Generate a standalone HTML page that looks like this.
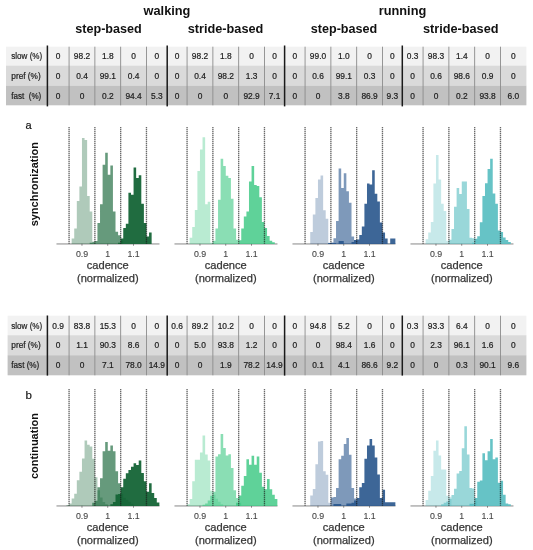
<!DOCTYPE html>
<html lang="en"><head><meta charset="utf-8"><title>Cadence histograms</title>
<style>html,body{margin:0;padding:0;background:#fff}svg{display:block}</style></head>
<body>
<svg width="533" height="550" viewBox="0 0 533 550" font-family='"Liberation Sans", sans-serif'>
<rect width="533" height="550" fill="#fff"/>
<text x="167" y="15.3" font-size="13.2" font-weight="700" text-anchor="middle" fill="#111" textLength="46.8" lengthAdjust="spacingAndGlyphs">walking</text>
<text x="402.5" y="15.3" font-size="13.2" font-weight="700" text-anchor="middle" fill="#111" textLength="47.6" lengthAdjust="spacingAndGlyphs">running</text>
<text x="108.5" y="33.2" font-size="13.2" font-weight="700" text-anchor="middle" fill="#111" textLength="66.4" lengthAdjust="spacingAndGlyphs">step-based</text>
<text x="225.5" y="33.2" font-size="13.2" font-weight="700" text-anchor="middle" fill="#111" textLength="75.6" lengthAdjust="spacingAndGlyphs">stride-based</text>
<text x="344" y="33.2" font-size="13.2" font-weight="700" text-anchor="middle" fill="#111" textLength="66.4" lengthAdjust="spacingAndGlyphs">step-based</text>
<text x="460.7" y="33.2" font-size="13.2" font-weight="700" text-anchor="middle" fill="#111" textLength="75.6" lengthAdjust="spacingAndGlyphs">stride-based</text>
<rect x="6.0" y="46.7" width="520.4" height="18.9" fill="#f2f2f2"/>
<rect x="6.0" y="65.6" width="520.4" height="20.0" fill="#dadada"/>
<rect x="6.0" y="85.6" width="520.4" height="19.7" fill="#c1c1c1"/>
<rect x="68.62" y="46.7" width="0.9" height="58.6" fill="#8c8c8c"/>
<rect x="94.42" y="46.7" width="0.9" height="58.6" fill="#8c8c8c"/>
<rect x="120.22" y="46.7" width="0.9" height="58.6" fill="#8c8c8c"/>
<rect x="146.02" y="46.7" width="0.9" height="58.6" fill="#8c8c8c"/>
<rect x="186.62" y="46.7" width="0.9" height="58.6" fill="#8c8c8c"/>
<rect x="212.42" y="46.7" width="0.9" height="58.6" fill="#8c8c8c"/>
<rect x="238.22" y="46.7" width="0.9" height="58.6" fill="#8c8c8c"/>
<rect x="264.02" y="46.7" width="0.9" height="58.6" fill="#8c8c8c"/>
<rect x="304.62" y="46.7" width="0.9" height="58.6" fill="#8c8c8c"/>
<rect x="330.42" y="46.7" width="0.9" height="58.6" fill="#8c8c8c"/>
<rect x="356.22" y="46.7" width="0.9" height="58.6" fill="#8c8c8c"/>
<rect x="382.02" y="46.7" width="0.9" height="58.6" fill="#8c8c8c"/>
<rect x="422.62" y="46.7" width="0.9" height="58.6" fill="#8c8c8c"/>
<rect x="448.42" y="46.7" width="0.9" height="58.6" fill="#8c8c8c"/>
<rect x="474.22" y="46.7" width="0.9" height="58.6" fill="#8c8c8c"/>
<rect x="500.02" y="46.7" width="0.9" height="58.6" fill="#8c8c8c"/>
<rect x="46.65" y="45.5" width="1.5" height="60.9" fill="#1a1a1a"/>
<rect x="166.45" y="45.5" width="1.5" height="60.9" fill="#1a1a1a"/>
<rect x="283.85" y="45.5" width="1.5" height="60.9" fill="#1a1a1a"/>
<rect x="401.55" y="45.5" width="1.5" height="60.9" fill="#1a1a1a"/>
<text x="11.3" y="58.5" font-size="8.4" fill="#1c1c1c" stroke="#1c1c1c" stroke-width="0.2" textLength="30.9" lengthAdjust="spacingAndGlyphs" xml:space="preserve">slow (%)</text>
<text x="58.2" y="58.5" font-size="8.4" fill="#1c1c1c" stroke="#1c1c1c" stroke-width="0.2" text-anchor="middle">0</text>
<text x="82.0" y="58.5" font-size="8.4" fill="#1c1c1c" stroke="#1c1c1c" stroke-width="0.2" text-anchor="middle">98.2</text>
<text x="107.8" y="58.5" font-size="8.4" fill="#1c1c1c" stroke="#1c1c1c" stroke-width="0.2" text-anchor="middle">1.8</text>
<text x="133.6" y="58.5" font-size="8.4" fill="#1c1c1c" stroke="#1c1c1c" stroke-width="0.2" text-anchor="middle">0</text>
<text x="156.8" y="58.5" font-size="8.4" fill="#1c1c1c" stroke="#1c1c1c" stroke-width="0.2" text-anchor="middle">0</text>
<text x="177.1" y="58.5" font-size="8.4" fill="#1c1c1c" stroke="#1c1c1c" stroke-width="0.2" text-anchor="middle">0</text>
<text x="200.0" y="58.5" font-size="8.4" fill="#1c1c1c" stroke="#1c1c1c" stroke-width="0.2" text-anchor="middle">98.2</text>
<text x="225.8" y="58.5" font-size="8.4" fill="#1c1c1c" stroke="#1c1c1c" stroke-width="0.2" text-anchor="middle">1.8</text>
<text x="251.6" y="58.5" font-size="8.4" fill="#1c1c1c" stroke="#1c1c1c" stroke-width="0.2" text-anchor="middle">0</text>
<text x="274.5" y="58.5" font-size="8.4" fill="#1c1c1c" stroke="#1c1c1c" stroke-width="0.2" text-anchor="middle">0</text>
<text x="294.8" y="58.5" font-size="8.4" fill="#1c1c1c" stroke="#1c1c1c" stroke-width="0.2" text-anchor="middle">0</text>
<text x="318.0" y="58.5" font-size="8.4" fill="#1c1c1c" stroke="#1c1c1c" stroke-width="0.2" text-anchor="middle">99.0</text>
<text x="343.8" y="58.5" font-size="8.4" fill="#1c1c1c" stroke="#1c1c1c" stroke-width="0.2" text-anchor="middle">1.0</text>
<text x="369.6" y="58.5" font-size="8.4" fill="#1c1c1c" stroke="#1c1c1c" stroke-width="0.2" text-anchor="middle">0</text>
<text x="392.4" y="58.5" font-size="8.4" fill="#1c1c1c" stroke="#1c1c1c" stroke-width="0.2" text-anchor="middle">0</text>
<text x="412.7" y="58.5" font-size="8.4" fill="#1c1c1c" stroke="#1c1c1c" stroke-width="0.2" text-anchor="middle">0.3</text>
<text x="436.0" y="58.5" font-size="8.4" fill="#1c1c1c" stroke="#1c1c1c" stroke-width="0.2" text-anchor="middle">98.3</text>
<text x="461.8" y="58.5" font-size="8.4" fill="#1c1c1c" stroke="#1c1c1c" stroke-width="0.2" text-anchor="middle">1.4</text>
<text x="487.6" y="58.5" font-size="8.4" fill="#1c1c1c" stroke="#1c1c1c" stroke-width="0.2" text-anchor="middle">0</text>
<text x="513.4" y="58.5" font-size="8.4" fill="#1c1c1c" stroke="#1c1c1c" stroke-width="0.2" text-anchor="middle">0</text>
<text x="11.3" y="79.0" font-size="8.4" fill="#1c1c1c" stroke="#1c1c1c" stroke-width="0.2" textLength="29.4" lengthAdjust="spacingAndGlyphs" xml:space="preserve">pref (%)</text>
<text x="58.2" y="79.0" font-size="8.4" fill="#1c1c1c" stroke="#1c1c1c" stroke-width="0.2" text-anchor="middle">0</text>
<text x="82.0" y="79.0" font-size="8.4" fill="#1c1c1c" stroke="#1c1c1c" stroke-width="0.2" text-anchor="middle">0.4</text>
<text x="107.8" y="79.0" font-size="8.4" fill="#1c1c1c" stroke="#1c1c1c" stroke-width="0.2" text-anchor="middle">99.1</text>
<text x="133.6" y="79.0" font-size="8.4" fill="#1c1c1c" stroke="#1c1c1c" stroke-width="0.2" text-anchor="middle">0.4</text>
<text x="156.8" y="79.0" font-size="8.4" fill="#1c1c1c" stroke="#1c1c1c" stroke-width="0.2" text-anchor="middle">0</text>
<text x="177.1" y="79.0" font-size="8.4" fill="#1c1c1c" stroke="#1c1c1c" stroke-width="0.2" text-anchor="middle">0</text>
<text x="200.0" y="79.0" font-size="8.4" fill="#1c1c1c" stroke="#1c1c1c" stroke-width="0.2" text-anchor="middle">0.4</text>
<text x="225.8" y="79.0" font-size="8.4" fill="#1c1c1c" stroke="#1c1c1c" stroke-width="0.2" text-anchor="middle">98.2</text>
<text x="251.6" y="79.0" font-size="8.4" fill="#1c1c1c" stroke="#1c1c1c" stroke-width="0.2" text-anchor="middle">1.3</text>
<text x="274.5" y="79.0" font-size="8.4" fill="#1c1c1c" stroke="#1c1c1c" stroke-width="0.2" text-anchor="middle">0</text>
<text x="294.8" y="79.0" font-size="8.4" fill="#1c1c1c" stroke="#1c1c1c" stroke-width="0.2" text-anchor="middle">0</text>
<text x="318.0" y="79.0" font-size="8.4" fill="#1c1c1c" stroke="#1c1c1c" stroke-width="0.2" text-anchor="middle">0.6</text>
<text x="343.8" y="79.0" font-size="8.4" fill="#1c1c1c" stroke="#1c1c1c" stroke-width="0.2" text-anchor="middle">99.1</text>
<text x="369.6" y="79.0" font-size="8.4" fill="#1c1c1c" stroke="#1c1c1c" stroke-width="0.2" text-anchor="middle">0.3</text>
<text x="392.4" y="79.0" font-size="8.4" fill="#1c1c1c" stroke="#1c1c1c" stroke-width="0.2" text-anchor="middle">0</text>
<text x="412.7" y="79.0" font-size="8.4" fill="#1c1c1c" stroke="#1c1c1c" stroke-width="0.2" text-anchor="middle">0</text>
<text x="436.0" y="79.0" font-size="8.4" fill="#1c1c1c" stroke="#1c1c1c" stroke-width="0.2" text-anchor="middle">0.6</text>
<text x="461.8" y="79.0" font-size="8.4" fill="#1c1c1c" stroke="#1c1c1c" stroke-width="0.2" text-anchor="middle">98.6</text>
<text x="487.6" y="79.0" font-size="8.4" fill="#1c1c1c" stroke="#1c1c1c" stroke-width="0.2" text-anchor="middle">0.9</text>
<text x="513.4" y="79.0" font-size="8.4" fill="#1c1c1c" stroke="#1c1c1c" stroke-width="0.2" text-anchor="middle">0</text>
<text x="11.3" y="98.7" font-size="8.4" fill="#1c1c1c" stroke="#1c1c1c" stroke-width="0.2" textLength="30.0" lengthAdjust="spacingAndGlyphs" xml:space="preserve">fast  (%)</text>
<text x="58.2" y="98.7" font-size="8.4" fill="#1c1c1c" stroke="#1c1c1c" stroke-width="0.2" text-anchor="middle">0</text>
<text x="82.0" y="98.7" font-size="8.4" fill="#1c1c1c" stroke="#1c1c1c" stroke-width="0.2" text-anchor="middle">0</text>
<text x="107.8" y="98.7" font-size="8.4" fill="#1c1c1c" stroke="#1c1c1c" stroke-width="0.2" text-anchor="middle">0.2</text>
<text x="133.6" y="98.7" font-size="8.4" fill="#1c1c1c" stroke="#1c1c1c" stroke-width="0.2" text-anchor="middle">94.4</text>
<text x="156.8" y="98.7" font-size="8.4" fill="#1c1c1c" stroke="#1c1c1c" stroke-width="0.2" text-anchor="middle">5.3</text>
<text x="177.1" y="98.7" font-size="8.4" fill="#1c1c1c" stroke="#1c1c1c" stroke-width="0.2" text-anchor="middle">0</text>
<text x="200.0" y="98.7" font-size="8.4" fill="#1c1c1c" stroke="#1c1c1c" stroke-width="0.2" text-anchor="middle">0</text>
<text x="225.8" y="98.7" font-size="8.4" fill="#1c1c1c" stroke="#1c1c1c" stroke-width="0.2" text-anchor="middle">0</text>
<text x="251.6" y="98.7" font-size="8.4" fill="#1c1c1c" stroke="#1c1c1c" stroke-width="0.2" text-anchor="middle">92.9</text>
<text x="274.5" y="98.7" font-size="8.4" fill="#1c1c1c" stroke="#1c1c1c" stroke-width="0.2" text-anchor="middle">7.1</text>
<text x="294.8" y="98.7" font-size="8.4" fill="#1c1c1c" stroke="#1c1c1c" stroke-width="0.2" text-anchor="middle">0</text>
<text x="318.0" y="98.7" font-size="8.4" fill="#1c1c1c" stroke="#1c1c1c" stroke-width="0.2" text-anchor="middle">0</text>
<text x="343.8" y="98.7" font-size="8.4" fill="#1c1c1c" stroke="#1c1c1c" stroke-width="0.2" text-anchor="middle">3.8</text>
<text x="369.6" y="98.7" font-size="8.4" fill="#1c1c1c" stroke="#1c1c1c" stroke-width="0.2" text-anchor="middle">86.9</text>
<text x="392.4" y="98.7" font-size="8.4" fill="#1c1c1c" stroke="#1c1c1c" stroke-width="0.2" text-anchor="middle">9.3</text>
<text x="412.7" y="98.7" font-size="8.4" fill="#1c1c1c" stroke="#1c1c1c" stroke-width="0.2" text-anchor="middle">0</text>
<text x="436.0" y="98.7" font-size="8.4" fill="#1c1c1c" stroke="#1c1c1c" stroke-width="0.2" text-anchor="middle">0</text>
<text x="461.8" y="98.7" font-size="8.4" fill="#1c1c1c" stroke="#1c1c1c" stroke-width="0.2" text-anchor="middle">0.2</text>
<text x="487.6" y="98.7" font-size="8.4" fill="#1c1c1c" stroke="#1c1c1c" stroke-width="0.2" text-anchor="middle">93.8</text>
<text x="513.4" y="98.7" font-size="8.4" fill="#1c1c1c" stroke="#1c1c1c" stroke-width="0.2" text-anchor="middle">6.0</text>
<rect x="7.6" y="315.7" width="518.8" height="19.5" fill="#f2f2f2"/>
<rect x="7.6" y="335.2" width="518.8" height="20.0" fill="#dadada"/>
<rect x="7.6" y="355.2" width="518.8" height="20.1" fill="#c1c1c1"/>
<rect x="68.62" y="315.7" width="0.9" height="59.6" fill="#8c8c8c"/>
<rect x="94.42" y="315.7" width="0.9" height="59.6" fill="#8c8c8c"/>
<rect x="120.22" y="315.7" width="0.9" height="59.6" fill="#8c8c8c"/>
<rect x="146.02" y="315.7" width="0.9" height="59.6" fill="#8c8c8c"/>
<rect x="186.62" y="315.7" width="0.9" height="59.6" fill="#8c8c8c"/>
<rect x="212.42" y="315.7" width="0.9" height="59.6" fill="#8c8c8c"/>
<rect x="238.22" y="315.7" width="0.9" height="59.6" fill="#8c8c8c"/>
<rect x="264.02" y="315.7" width="0.9" height="59.6" fill="#8c8c8c"/>
<rect x="304.62" y="315.7" width="0.9" height="59.6" fill="#8c8c8c"/>
<rect x="330.42" y="315.7" width="0.9" height="59.6" fill="#8c8c8c"/>
<rect x="356.22" y="315.7" width="0.9" height="59.6" fill="#8c8c8c"/>
<rect x="382.02" y="315.7" width="0.9" height="59.6" fill="#8c8c8c"/>
<rect x="422.62" y="315.7" width="0.9" height="59.6" fill="#8c8c8c"/>
<rect x="448.42" y="315.7" width="0.9" height="59.6" fill="#8c8c8c"/>
<rect x="474.22" y="315.7" width="0.9" height="59.6" fill="#8c8c8c"/>
<rect x="500.02" y="315.7" width="0.9" height="59.6" fill="#8c8c8c"/>
<rect x="46.65" y="315.5" width="1.5" height="60.1" fill="#1a1a1a"/>
<rect x="166.45" y="315.5" width="1.5" height="60.1" fill="#1a1a1a"/>
<rect x="283.85" y="315.5" width="1.5" height="60.1" fill="#1a1a1a"/>
<rect x="401.55" y="315.5" width="1.5" height="60.1" fill="#1a1a1a"/>
<text x="11.3" y="328.6" font-size="8.4" fill="#1c1c1c" stroke="#1c1c1c" stroke-width="0.2" textLength="30.9" lengthAdjust="spacingAndGlyphs" xml:space="preserve">slow (%)</text>
<text x="58.2" y="328.6" font-size="8.4" fill="#1c1c1c" stroke="#1c1c1c" stroke-width="0.2" text-anchor="middle">0.9</text>
<text x="82.0" y="328.6" font-size="8.4" fill="#1c1c1c" stroke="#1c1c1c" stroke-width="0.2" text-anchor="middle">83.8</text>
<text x="107.8" y="328.6" font-size="8.4" fill="#1c1c1c" stroke="#1c1c1c" stroke-width="0.2" text-anchor="middle">15.3</text>
<text x="133.6" y="328.6" font-size="8.4" fill="#1c1c1c" stroke="#1c1c1c" stroke-width="0.2" text-anchor="middle">0</text>
<text x="156.8" y="328.6" font-size="8.4" fill="#1c1c1c" stroke="#1c1c1c" stroke-width="0.2" text-anchor="middle">0</text>
<text x="177.1" y="328.6" font-size="8.4" fill="#1c1c1c" stroke="#1c1c1c" stroke-width="0.2" text-anchor="middle">0.6</text>
<text x="200.0" y="328.6" font-size="8.4" fill="#1c1c1c" stroke="#1c1c1c" stroke-width="0.2" text-anchor="middle">89.2</text>
<text x="225.8" y="328.6" font-size="8.4" fill="#1c1c1c" stroke="#1c1c1c" stroke-width="0.2" text-anchor="middle">10.2</text>
<text x="251.6" y="328.6" font-size="8.4" fill="#1c1c1c" stroke="#1c1c1c" stroke-width="0.2" text-anchor="middle">0</text>
<text x="274.5" y="328.6" font-size="8.4" fill="#1c1c1c" stroke="#1c1c1c" stroke-width="0.2" text-anchor="middle">0</text>
<text x="294.8" y="328.6" font-size="8.4" fill="#1c1c1c" stroke="#1c1c1c" stroke-width="0.2" text-anchor="middle">0</text>
<text x="318.0" y="328.6" font-size="8.4" fill="#1c1c1c" stroke="#1c1c1c" stroke-width="0.2" text-anchor="middle">94.8</text>
<text x="343.8" y="328.6" font-size="8.4" fill="#1c1c1c" stroke="#1c1c1c" stroke-width="0.2" text-anchor="middle">5.2</text>
<text x="369.6" y="328.6" font-size="8.4" fill="#1c1c1c" stroke="#1c1c1c" stroke-width="0.2" text-anchor="middle">0</text>
<text x="392.4" y="328.6" font-size="8.4" fill="#1c1c1c" stroke="#1c1c1c" stroke-width="0.2" text-anchor="middle">0</text>
<text x="412.7" y="328.6" font-size="8.4" fill="#1c1c1c" stroke="#1c1c1c" stroke-width="0.2" text-anchor="middle">0.3</text>
<text x="436.0" y="328.6" font-size="8.4" fill="#1c1c1c" stroke="#1c1c1c" stroke-width="0.2" text-anchor="middle">93.3</text>
<text x="461.8" y="328.6" font-size="8.4" fill="#1c1c1c" stroke="#1c1c1c" stroke-width="0.2" text-anchor="middle">6.4</text>
<text x="487.6" y="328.6" font-size="8.4" fill="#1c1c1c" stroke="#1c1c1c" stroke-width="0.2" text-anchor="middle">0</text>
<text x="513.4" y="328.6" font-size="8.4" fill="#1c1c1c" stroke="#1c1c1c" stroke-width="0.2" text-anchor="middle">0</text>
<text x="11.3" y="348.3" font-size="8.4" fill="#1c1c1c" stroke="#1c1c1c" stroke-width="0.2" textLength="29.4" lengthAdjust="spacingAndGlyphs" xml:space="preserve">pref (%)</text>
<text x="58.2" y="348.3" font-size="8.4" fill="#1c1c1c" stroke="#1c1c1c" stroke-width="0.2" text-anchor="middle">0</text>
<text x="82.0" y="348.3" font-size="8.4" fill="#1c1c1c" stroke="#1c1c1c" stroke-width="0.2" text-anchor="middle">1.1</text>
<text x="107.8" y="348.3" font-size="8.4" fill="#1c1c1c" stroke="#1c1c1c" stroke-width="0.2" text-anchor="middle">90.3</text>
<text x="133.6" y="348.3" font-size="8.4" fill="#1c1c1c" stroke="#1c1c1c" stroke-width="0.2" text-anchor="middle">8.6</text>
<text x="156.8" y="348.3" font-size="8.4" fill="#1c1c1c" stroke="#1c1c1c" stroke-width="0.2" text-anchor="middle">0</text>
<text x="177.1" y="348.3" font-size="8.4" fill="#1c1c1c" stroke="#1c1c1c" stroke-width="0.2" text-anchor="middle">0</text>
<text x="200.0" y="348.3" font-size="8.4" fill="#1c1c1c" stroke="#1c1c1c" stroke-width="0.2" text-anchor="middle">5.0</text>
<text x="225.8" y="348.3" font-size="8.4" fill="#1c1c1c" stroke="#1c1c1c" stroke-width="0.2" text-anchor="middle">93.8</text>
<text x="251.6" y="348.3" font-size="8.4" fill="#1c1c1c" stroke="#1c1c1c" stroke-width="0.2" text-anchor="middle">1.2</text>
<text x="274.5" y="348.3" font-size="8.4" fill="#1c1c1c" stroke="#1c1c1c" stroke-width="0.2" text-anchor="middle">0</text>
<text x="294.8" y="348.3" font-size="8.4" fill="#1c1c1c" stroke="#1c1c1c" stroke-width="0.2" text-anchor="middle">0</text>
<text x="318.0" y="348.3" font-size="8.4" fill="#1c1c1c" stroke="#1c1c1c" stroke-width="0.2" text-anchor="middle">0</text>
<text x="343.8" y="348.3" font-size="8.4" fill="#1c1c1c" stroke="#1c1c1c" stroke-width="0.2" text-anchor="middle">98.4</text>
<text x="369.6" y="348.3" font-size="8.4" fill="#1c1c1c" stroke="#1c1c1c" stroke-width="0.2" text-anchor="middle">1.6</text>
<text x="392.4" y="348.3" font-size="8.4" fill="#1c1c1c" stroke="#1c1c1c" stroke-width="0.2" text-anchor="middle">0</text>
<text x="412.7" y="348.3" font-size="8.4" fill="#1c1c1c" stroke="#1c1c1c" stroke-width="0.2" text-anchor="middle">0</text>
<text x="436.0" y="348.3" font-size="8.4" fill="#1c1c1c" stroke="#1c1c1c" stroke-width="0.2" text-anchor="middle">2.3</text>
<text x="461.8" y="348.3" font-size="8.4" fill="#1c1c1c" stroke="#1c1c1c" stroke-width="0.2" text-anchor="middle">96.1</text>
<text x="487.6" y="348.3" font-size="8.4" fill="#1c1c1c" stroke="#1c1c1c" stroke-width="0.2" text-anchor="middle">1.6</text>
<text x="513.4" y="348.3" font-size="8.4" fill="#1c1c1c" stroke="#1c1c1c" stroke-width="0.2" text-anchor="middle">0</text>
<text x="11.3" y="368.4" font-size="8.4" fill="#1c1c1c" stroke="#1c1c1c" stroke-width="0.2" textLength="28.0" lengthAdjust="spacingAndGlyphs" xml:space="preserve">fast (%)</text>
<text x="58.2" y="368.4" font-size="8.4" fill="#1c1c1c" stroke="#1c1c1c" stroke-width="0.2" text-anchor="middle">0</text>
<text x="82.0" y="368.4" font-size="8.4" fill="#1c1c1c" stroke="#1c1c1c" stroke-width="0.2" text-anchor="middle">0</text>
<text x="107.8" y="368.4" font-size="8.4" fill="#1c1c1c" stroke="#1c1c1c" stroke-width="0.2" text-anchor="middle">7.1</text>
<text x="133.6" y="368.4" font-size="8.4" fill="#1c1c1c" stroke="#1c1c1c" stroke-width="0.2" text-anchor="middle">78.0</text>
<text x="156.8" y="368.4" font-size="8.4" fill="#1c1c1c" stroke="#1c1c1c" stroke-width="0.2" text-anchor="middle">14.9</text>
<text x="177.1" y="368.4" font-size="8.4" fill="#1c1c1c" stroke="#1c1c1c" stroke-width="0.2" text-anchor="middle">0</text>
<text x="200.0" y="368.4" font-size="8.4" fill="#1c1c1c" stroke="#1c1c1c" stroke-width="0.2" text-anchor="middle">0</text>
<text x="225.8" y="368.4" font-size="8.4" fill="#1c1c1c" stroke="#1c1c1c" stroke-width="0.2" text-anchor="middle">1.9</text>
<text x="251.6" y="368.4" font-size="8.4" fill="#1c1c1c" stroke="#1c1c1c" stroke-width="0.2" text-anchor="middle">78.2</text>
<text x="274.5" y="368.4" font-size="8.4" fill="#1c1c1c" stroke="#1c1c1c" stroke-width="0.2" text-anchor="middle">14.9</text>
<text x="294.8" y="368.4" font-size="8.4" fill="#1c1c1c" stroke="#1c1c1c" stroke-width="0.2" text-anchor="middle">0</text>
<text x="318.0" y="368.4" font-size="8.4" fill="#1c1c1c" stroke="#1c1c1c" stroke-width="0.2" text-anchor="middle">0.1</text>
<text x="343.8" y="368.4" font-size="8.4" fill="#1c1c1c" stroke="#1c1c1c" stroke-width="0.2" text-anchor="middle">4.1</text>
<text x="369.6" y="368.4" font-size="8.4" fill="#1c1c1c" stroke="#1c1c1c" stroke-width="0.2" text-anchor="middle">86.6</text>
<text x="392.4" y="368.4" font-size="8.4" fill="#1c1c1c" stroke="#1c1c1c" stroke-width="0.2" text-anchor="middle">9.2</text>
<text x="412.7" y="368.4" font-size="8.4" fill="#1c1c1c" stroke="#1c1c1c" stroke-width="0.2" text-anchor="middle">0</text>
<text x="436.0" y="368.4" font-size="8.4" fill="#1c1c1c" stroke="#1c1c1c" stroke-width="0.2" text-anchor="middle">0</text>
<text x="461.8" y="368.4" font-size="8.4" fill="#1c1c1c" stroke="#1c1c1c" stroke-width="0.2" text-anchor="middle">0.3</text>
<text x="487.6" y="368.4" font-size="8.4" fill="#1c1c1c" stroke="#1c1c1c" stroke-width="0.2" text-anchor="middle">90.1</text>
<text x="513.4" y="368.4" font-size="8.4" fill="#1c1c1c" stroke="#1c1c1c" stroke-width="0.2" text-anchor="middle">9.6</text>
<rect x="56.47" y="243.45" width="103" height="1" fill="#888"/>
<rect x="81.57" y="243.70" width="0.8" height="2.0" fill="#6a6a6a"/>
<rect x="107.37" y="243.70" width="0.8" height="2.0" fill="#6a6a6a"/>
<rect x="133.17" y="243.70" width="0.8" height="2.0" fill="#6a6a6a"/>
<path d="M71.65,244.10V238.40H74.23V228.50H76.81V200.90H79.39V186.50H81.97V138.10H84.55V139.90H87.13V195.90H89.71V211.60H92.29V243.20H94.87V244.10Z" fill="rgba(20,100,54,0.34)"/>
<path d="M89.71,244.10V242.70H92.29V241.70H94.87V240.90H97.45V222.90H100.03V204.30H102.61V164.70H105.19V152.80H107.77V174.80H110.35V165.60H112.93V211.60H115.51V231.70H118.09V235.30H120.67V240.70H123.25V244.10Z" fill="rgba(20,100,54,0.65)"/>
<path d="M118.09,244.10V242.70H120.67V238.40H123.25V227.90H125.83V223.80H128.41V192.70H130.99V194.70H133.57V167.40H136.15V178.10H138.73V175.20H141.31V203.70H143.89V222.90H146.47V236.40H149.05V232.40H151.63V244.10Z" fill="rgba(20,100,54,0.95)"/>
<line x1="69.07" y1="127" x2="69.07" y2="243.70" stroke="#000" stroke-opacity="0.22" stroke-width="1.3"/>
<line x1="69.07" y1="127" x2="69.07" y2="243.70" stroke="#1e1e1e" stroke-opacity="0.55" stroke-width="1.3" stroke-dasharray="1 1"/>
<line x1="94.87" y1="127" x2="94.87" y2="243.70" stroke="#000" stroke-opacity="0.22" stroke-width="1.3"/>
<line x1="94.87" y1="127" x2="94.87" y2="243.70" stroke="#1e1e1e" stroke-opacity="0.55" stroke-width="1.3" stroke-dasharray="1 1"/>
<line x1="120.67" y1="127" x2="120.67" y2="243.70" stroke="#000" stroke-opacity="0.22" stroke-width="1.3"/>
<line x1="120.67" y1="127" x2="120.67" y2="243.70" stroke="#1e1e1e" stroke-opacity="0.55" stroke-width="1.3" stroke-dasharray="1 1"/>
<line x1="146.47" y1="127" x2="146.47" y2="243.70" stroke="#000" stroke-opacity="0.22" stroke-width="1.3"/>
<line x1="146.47" y1="127" x2="146.47" y2="243.70" stroke="#1e1e1e" stroke-opacity="0.55" stroke-width="1.3" stroke-dasharray="1 1"/>
<text x="82.0" y="257.0" font-size="8.8" fill="#444" stroke="#444" stroke-width="0.1" text-anchor="middle">0.9</text>
<text x="107.8" y="257.0" font-size="8.8" fill="#444" stroke="#444" stroke-width="0.1" text-anchor="middle">1</text>
<text x="133.6" y="257.0" font-size="8.8" fill="#444" stroke="#444" stroke-width="0.1" text-anchor="middle">1.1</text>
<text x="107.8" y="269.2" font-size="11.1" fill="#363636" stroke="#363636" stroke-width="0.25" text-anchor="middle">cadence</text>
<text x="107.8" y="281.9" font-size="11.1" fill="#363636" stroke="#363636" stroke-width="0.25" text-anchor="middle">(normalized)</text>
<rect x="174.47" y="243.45" width="103" height="1" fill="#888"/>
<rect x="199.57" y="243.70" width="0.8" height="2.0" fill="#6a6a6a"/>
<rect x="225.37" y="243.70" width="0.8" height="2.0" fill="#6a6a6a"/>
<rect x="251.17" y="243.70" width="0.8" height="2.0" fill="#6a6a6a"/>
<path d="M189.65,244.10V237.80H192.23V227.10H194.81V210.10H197.39V170.90H199.97V149.40H202.55V137.30H205.13V204.30H207.71V201.70H210.29V242.70H212.87V244.10Z" fill="rgba(60,200,130,0.36)"/>
<path d="M212.87,244.10V240.70H215.45V228.50H218.03V199.80H220.61V158.80H223.19V166.00H225.77V175.80H228.35V178.10H230.93V198.80H233.51V228.50H236.09V239.80H238.67V244.10Z" fill="rgba(60,200,130,0.6)"/>
<path d="M238.67,244.10V240.20H241.25V228.50H243.83V216.40H246.41V211.50H248.99V181.60H251.57V166.00H254.15V185.10H256.73V186.10H259.31V197.20H261.89V222.00H264.47V227.90H267.05V236.10H269.63V240.80H272.21V242.30H274.79V244.10Z" fill="rgba(60,200,130,0.82)"/>
<line x1="187.07" y1="127" x2="187.07" y2="243.70" stroke="#000" stroke-opacity="0.22" stroke-width="1.3"/>
<line x1="187.07" y1="127" x2="187.07" y2="243.70" stroke="#1e1e1e" stroke-opacity="0.55" stroke-width="1.3" stroke-dasharray="1 1"/>
<line x1="212.87" y1="127" x2="212.87" y2="243.70" stroke="#000" stroke-opacity="0.22" stroke-width="1.3"/>
<line x1="212.87" y1="127" x2="212.87" y2="243.70" stroke="#1e1e1e" stroke-opacity="0.55" stroke-width="1.3" stroke-dasharray="1 1"/>
<line x1="238.67" y1="127" x2="238.67" y2="243.70" stroke="#000" stroke-opacity="0.22" stroke-width="1.3"/>
<line x1="238.67" y1="127" x2="238.67" y2="243.70" stroke="#1e1e1e" stroke-opacity="0.55" stroke-width="1.3" stroke-dasharray="1 1"/>
<line x1="264.47" y1="127" x2="264.47" y2="243.70" stroke="#000" stroke-opacity="0.22" stroke-width="1.3"/>
<line x1="264.47" y1="127" x2="264.47" y2="243.70" stroke="#1e1e1e" stroke-opacity="0.55" stroke-width="1.3" stroke-dasharray="1 1"/>
<text x="200.0" y="257.0" font-size="8.8" fill="#444" stroke="#444" stroke-width="0.1" text-anchor="middle">0.9</text>
<text x="225.8" y="257.0" font-size="8.8" fill="#444" stroke="#444" stroke-width="0.1" text-anchor="middle">1</text>
<text x="251.6" y="257.0" font-size="8.8" fill="#444" stroke="#444" stroke-width="0.1" text-anchor="middle">1.1</text>
<text x="225.8" y="269.2" font-size="11.1" fill="#363636" stroke="#363636" stroke-width="0.25" text-anchor="middle">cadence</text>
<text x="225.8" y="281.9" font-size="11.1" fill="#363636" stroke="#363636" stroke-width="0.25" text-anchor="middle">(normalized)</text>
<rect x="292.47" y="243.45" width="103" height="1" fill="#888"/>
<rect x="317.57" y="243.70" width="0.8" height="2.0" fill="#6a6a6a"/>
<rect x="343.37" y="243.70" width="0.8" height="2.0" fill="#6a6a6a"/>
<rect x="369.17" y="243.70" width="0.8" height="2.0" fill="#6a6a6a"/>
<path d="M310.23,244.10V231.90H312.81V214.50H315.39V198.00H317.97V179.40H320.55V175.60H323.13V210.30H325.71V218.70H328.29V242.70H330.87V244.10Z" fill="rgba(40,85,140,0.3)"/>
<path d="M328.29,244.10V242.90H330.87V242.40H333.45V238.20H336.03V221.00H338.61V168.40H341.19V188.10H343.77V173.30H346.35V191.20H348.93V202.70H351.51V236.50H354.09V239.90H356.67V244.10Z" fill="rgba(40,85,140,0.6)"/>
<path d="M328.29,244.10V242.90H330.87V242.90H333.45V242.90H336.03V243.70H338.61V241.10H341.19V241.10H343.77V243.70H346.35V243.70H348.93V243.70H351.51V241.90H354.09V240.00H356.67V239.50H359.25V234.90H361.83V226.40H364.41V203.70H366.99V183.40H369.57V184.60H372.15V170.30H374.73V193.80H377.31V201.50H379.89V222.50H382.47V232.40H385.05V238.50H387.63V243.70H390.21V238.50H392.79V238.50H395.37V244.10Z" fill="rgba(40,85,140,0.9)"/>
<line x1="305.07" y1="127" x2="305.07" y2="243.70" stroke="#000" stroke-opacity="0.22" stroke-width="1.3"/>
<line x1="305.07" y1="127" x2="305.07" y2="243.70" stroke="#1e1e1e" stroke-opacity="0.55" stroke-width="1.3" stroke-dasharray="1 1"/>
<line x1="330.87" y1="127" x2="330.87" y2="243.70" stroke="#000" stroke-opacity="0.22" stroke-width="1.3"/>
<line x1="330.87" y1="127" x2="330.87" y2="243.70" stroke="#1e1e1e" stroke-opacity="0.55" stroke-width="1.3" stroke-dasharray="1 1"/>
<line x1="356.67" y1="127" x2="356.67" y2="243.70" stroke="#000" stroke-opacity="0.22" stroke-width="1.3"/>
<line x1="356.67" y1="127" x2="356.67" y2="243.70" stroke="#1e1e1e" stroke-opacity="0.55" stroke-width="1.3" stroke-dasharray="1 1"/>
<line x1="382.47" y1="127" x2="382.47" y2="243.70" stroke="#000" stroke-opacity="0.22" stroke-width="1.3"/>
<line x1="382.47" y1="127" x2="382.47" y2="243.70" stroke="#1e1e1e" stroke-opacity="0.55" stroke-width="1.3" stroke-dasharray="1 1"/>
<text x="318.0" y="257.0" font-size="8.8" fill="#444" stroke="#444" stroke-width="0.1" text-anchor="middle">0.9</text>
<text x="343.8" y="257.0" font-size="8.8" fill="#444" stroke="#444" stroke-width="0.1" text-anchor="middle">1</text>
<text x="369.6" y="257.0" font-size="8.8" fill="#444" stroke="#444" stroke-width="0.1" text-anchor="middle">1.1</text>
<text x="343.8" y="269.2" font-size="11.1" fill="#363636" stroke="#363636" stroke-width="0.25" text-anchor="middle">cadence</text>
<text x="343.8" y="281.9" font-size="11.1" fill="#363636" stroke="#363636" stroke-width="0.25" text-anchor="middle">(normalized)</text>
<rect x="410.47" y="243.45" width="103" height="1" fill="#888"/>
<rect x="435.57" y="243.70" width="0.8" height="2.0" fill="#6a6a6a"/>
<rect x="461.37" y="243.70" width="0.8" height="2.0" fill="#6a6a6a"/>
<rect x="487.17" y="243.70" width="0.8" height="2.0" fill="#6a6a6a"/>
<path d="M425.65,244.10V239.20H428.23V232.40H430.81V222.00H433.39V183.40H435.97V155.10H438.55V179.50H441.13V203.70H443.71V211.10H446.29V240.70H448.87V244.10Z" fill="rgba(85,188,192,0.33)"/>
<path d="M448.87,244.10V239.80H451.45V229.10H454.03V206.70H456.61V188.10H459.19V193.90H461.77V181.60H464.35V181.60H466.93V209.00H469.51V237.80H472.09V238.20H474.67V244.10Z" fill="rgba(85,188,192,0.6)"/>
<path d="M472.09,244.10V242.70H474.67V238.80H477.25V236.30H479.83V222.20H482.41V195.90H484.99V183.20H487.57V169.00H490.15V158.80H492.73V193.50H495.31V203.70H497.89V230.50H500.47V231.90H503.05V237.40H505.63V240.10H508.21V242.10H510.79V244.10Z" fill="rgba(85,188,192,0.9)"/>
<line x1="423.07" y1="127" x2="423.07" y2="243.70" stroke="#000" stroke-opacity="0.22" stroke-width="1.3"/>
<line x1="423.07" y1="127" x2="423.07" y2="243.70" stroke="#1e1e1e" stroke-opacity="0.55" stroke-width="1.3" stroke-dasharray="1 1"/>
<line x1="448.87" y1="127" x2="448.87" y2="243.70" stroke="#000" stroke-opacity="0.22" stroke-width="1.3"/>
<line x1="448.87" y1="127" x2="448.87" y2="243.70" stroke="#1e1e1e" stroke-opacity="0.55" stroke-width="1.3" stroke-dasharray="1 1"/>
<line x1="474.67" y1="127" x2="474.67" y2="243.70" stroke="#000" stroke-opacity="0.22" stroke-width="1.3"/>
<line x1="474.67" y1="127" x2="474.67" y2="243.70" stroke="#1e1e1e" stroke-opacity="0.55" stroke-width="1.3" stroke-dasharray="1 1"/>
<line x1="500.47" y1="127" x2="500.47" y2="243.70" stroke="#000" stroke-opacity="0.22" stroke-width="1.3"/>
<line x1="500.47" y1="127" x2="500.47" y2="243.70" stroke="#1e1e1e" stroke-opacity="0.55" stroke-width="1.3" stroke-dasharray="1 1"/>
<text x="436.0" y="257.0" font-size="8.8" fill="#444" stroke="#444" stroke-width="0.1" text-anchor="middle">0.9</text>
<text x="461.8" y="257.0" font-size="8.8" fill="#444" stroke="#444" stroke-width="0.1" text-anchor="middle">1</text>
<text x="487.6" y="257.0" font-size="8.8" fill="#444" stroke="#444" stroke-width="0.1" text-anchor="middle">1.1</text>
<text x="461.8" y="269.2" font-size="11.1" fill="#363636" stroke="#363636" stroke-width="0.25" text-anchor="middle">cadence</text>
<text x="461.8" y="281.9" font-size="11.1" fill="#363636" stroke="#363636" stroke-width="0.25" text-anchor="middle">(normalized)</text>
<rect x="56.47" y="505.45" width="103" height="1" fill="#888"/>
<rect x="81.57" y="505.70" width="0.8" height="2.0" fill="#6a6a6a"/>
<rect x="107.37" y="505.70" width="0.8" height="2.0" fill="#6a6a6a"/>
<rect x="133.17" y="505.70" width="0.8" height="2.0" fill="#6a6a6a"/>
<path d="M66.49,506.10V505.10H69.07V503.40H71.65V498.50H74.23V493.70H76.81V480.20H79.39V471.70H81.97V458.50H84.55V440.40H87.13V444.80H89.71V446.50H92.29V458.70H94.87V477.30H97.45V490.20H100.03V497.60H102.61V502.10H105.19V504.20H107.77V506.10Z" fill="rgba(20,100,54,0.34)"/>
<path d="M92.29,506.10V502.70H94.87V500.70H97.45V487.30H100.03V478.20H102.61V451.30H105.19V441.90H107.77V450.70H110.35V445.40H112.93V451.30H115.51V471.20H118.09V483.20H120.67V493.70H123.25V497.70H125.83V499.70H128.41V501.70H130.99V503.70H133.57V506.10Z" fill="rgba(20,100,54,0.65)"/>
<path d="M110.35,506.10V504.30H112.93V502.10H115.51V494.40H118.09V493.90H120.67V487.30H123.25V478.80H125.83V473.20H128.41V470.10H130.99V466.70H133.57V463.30H136.15V465.10H138.73V460.40H141.31V473.10H143.89V481.30H146.47V491.70H149.05V483.30H151.63V493.00H154.21V498.10H156.79V502.40H159.37V506.10Z" fill="rgba(20,100,54,0.95)"/>
<line x1="69.07" y1="389" x2="69.07" y2="505.70" stroke="#000" stroke-opacity="0.22" stroke-width="1.3"/>
<line x1="69.07" y1="389" x2="69.07" y2="505.70" stroke="#1e1e1e" stroke-opacity="0.55" stroke-width="1.3" stroke-dasharray="1 1"/>
<line x1="94.87" y1="389" x2="94.87" y2="505.70" stroke="#000" stroke-opacity="0.22" stroke-width="1.3"/>
<line x1="94.87" y1="389" x2="94.87" y2="505.70" stroke="#1e1e1e" stroke-opacity="0.55" stroke-width="1.3" stroke-dasharray="1 1"/>
<line x1="120.67" y1="389" x2="120.67" y2="505.70" stroke="#000" stroke-opacity="0.22" stroke-width="1.3"/>
<line x1="120.67" y1="389" x2="120.67" y2="505.70" stroke="#1e1e1e" stroke-opacity="0.55" stroke-width="1.3" stroke-dasharray="1 1"/>
<line x1="146.47" y1="389" x2="146.47" y2="505.70" stroke="#000" stroke-opacity="0.22" stroke-width="1.3"/>
<line x1="146.47" y1="389" x2="146.47" y2="505.70" stroke="#1e1e1e" stroke-opacity="0.55" stroke-width="1.3" stroke-dasharray="1 1"/>
<text x="82.0" y="519.0" font-size="8.8" fill="#444" stroke="#444" stroke-width="0.1" text-anchor="middle">0.9</text>
<text x="107.8" y="519.0" font-size="8.8" fill="#444" stroke="#444" stroke-width="0.1" text-anchor="middle">1</text>
<text x="133.6" y="519.0" font-size="8.8" fill="#444" stroke="#444" stroke-width="0.1" text-anchor="middle">1.1</text>
<text x="107.8" y="531.2" font-size="11.1" fill="#363636" stroke="#363636" stroke-width="0.25" text-anchor="middle">cadence</text>
<text x="107.8" y="543.9" font-size="11.1" fill="#363636" stroke="#363636" stroke-width="0.25" text-anchor="middle">(normalized)</text>
<rect x="174.47" y="505.45" width="103" height="1" fill="#888"/>
<rect x="199.57" y="505.70" width="0.8" height="2.0" fill="#6a6a6a"/>
<rect x="225.37" y="505.70" width="0.8" height="2.0" fill="#6a6a6a"/>
<rect x="251.17" y="505.70" width="0.8" height="2.0" fill="#6a6a6a"/>
<path d="M187.07,506.10V504.30H189.65V498.90H192.23V481.30H194.81V459.80H197.39V459.80H199.97V452.60H202.55V435.50H205.13V454.60H207.71V460.40H210.29V490.70H212.87V494.70H215.45V498.70H218.03V501.70H220.61V504.20H223.19V506.10Z" fill="rgba(60,200,130,0.36)"/>
<path d="M202.55,506.10V504.70H205.13V503.40H207.71V500.40H210.29V495.70H212.87V491.70H215.45V456.40H218.03V454.20H220.61V433.90H223.19V447.90H225.77V455.40H228.35V454.20H230.93V468.00H233.51V490.20H236.09V498.10H238.67V502.70H241.25V506.10Z" fill="rgba(60,200,130,0.6)"/>
<path d="M236.09,506.10V502.70H238.67V495.60H241.25V485.80H243.83V476.00H246.41V459.20H248.99V464.70H251.57V455.70H254.15V464.70H256.73V456.40H259.31V472.80H261.89V486.80H264.47V489.20H267.05V478.90H269.63V489.20H272.21V494.80H274.79V499.00H277.37V506.10Z" fill="rgba(60,200,130,0.82)"/>
<line x1="187.07" y1="389" x2="187.07" y2="505.70" stroke="#000" stroke-opacity="0.22" stroke-width="1.3"/>
<line x1="187.07" y1="389" x2="187.07" y2="505.70" stroke="#1e1e1e" stroke-opacity="0.55" stroke-width="1.3" stroke-dasharray="1 1"/>
<line x1="212.87" y1="389" x2="212.87" y2="505.70" stroke="#000" stroke-opacity="0.22" stroke-width="1.3"/>
<line x1="212.87" y1="389" x2="212.87" y2="505.70" stroke="#1e1e1e" stroke-opacity="0.55" stroke-width="1.3" stroke-dasharray="1 1"/>
<line x1="238.67" y1="389" x2="238.67" y2="505.70" stroke="#000" stroke-opacity="0.22" stroke-width="1.3"/>
<line x1="238.67" y1="389" x2="238.67" y2="505.70" stroke="#1e1e1e" stroke-opacity="0.55" stroke-width="1.3" stroke-dasharray="1 1"/>
<line x1="264.47" y1="389" x2="264.47" y2="505.70" stroke="#000" stroke-opacity="0.22" stroke-width="1.3"/>
<line x1="264.47" y1="389" x2="264.47" y2="505.70" stroke="#1e1e1e" stroke-opacity="0.55" stroke-width="1.3" stroke-dasharray="1 1"/>
<text x="200.0" y="519.0" font-size="8.8" fill="#444" stroke="#444" stroke-width="0.1" text-anchor="middle">0.9</text>
<text x="225.8" y="519.0" font-size="8.8" fill="#444" stroke="#444" stroke-width="0.1" text-anchor="middle">1</text>
<text x="251.6" y="519.0" font-size="8.8" fill="#444" stroke="#444" stroke-width="0.1" text-anchor="middle">1.1</text>
<text x="225.8" y="531.2" font-size="11.1" fill="#363636" stroke="#363636" stroke-width="0.25" text-anchor="middle">cadence</text>
<text x="225.8" y="543.9" font-size="11.1" fill="#363636" stroke="#363636" stroke-width="0.25" text-anchor="middle">(normalized)</text>
<rect x="292.47" y="505.45" width="103" height="1" fill="#888"/>
<rect x="317.57" y="505.70" width="0.8" height="2.0" fill="#6a6a6a"/>
<rect x="343.37" y="505.70" width="0.8" height="2.0" fill="#6a6a6a"/>
<rect x="369.17" y="505.70" width="0.8" height="2.0" fill="#6a6a6a"/>
<path d="M310.23,506.10V495.60H312.81V489.10H315.39V464.30H317.97V441.50H320.55V440.90H323.13V471.20H325.71V474.70H328.29V502.70H330.87V506.10Z" fill="rgba(40,85,140,0.3)"/>
<path d="M330.87,506.10V497.50H333.45V496.90H336.03V487.90H338.61V459.20H341.19V455.70H343.77V443.90H346.35V438.00H348.93V454.80H351.51V487.90H354.09V498.40H356.67V506.10Z" fill="rgba(40,85,140,0.6)"/>
<path d="M333.45,506.10V503.90H336.03V503.90H338.61V503.90H341.19V505.70H343.77V505.70H346.35V503.40H348.93V503.40H351.51V502.70H354.09V500.40H356.67V498.10H359.25V487.20H361.83V482.90H364.41V458.70H366.99V445.50H369.57V439.00H372.15V445.50H374.73V457.60H377.31V474.40H379.89V497.90H382.47V489.80H385.05V502.30H387.63V502.30H390.21V502.30H392.79V502.30H395.37V506.10Z" fill="rgba(40,85,140,0.9)"/>
<line x1="305.07" y1="389" x2="305.07" y2="505.70" stroke="#000" stroke-opacity="0.22" stroke-width="1.3"/>
<line x1="305.07" y1="389" x2="305.07" y2="505.70" stroke="#1e1e1e" stroke-opacity="0.55" stroke-width="1.3" stroke-dasharray="1 1"/>
<line x1="330.87" y1="389" x2="330.87" y2="505.70" stroke="#000" stroke-opacity="0.22" stroke-width="1.3"/>
<line x1="330.87" y1="389" x2="330.87" y2="505.70" stroke="#1e1e1e" stroke-opacity="0.55" stroke-width="1.3" stroke-dasharray="1 1"/>
<line x1="356.67" y1="389" x2="356.67" y2="505.70" stroke="#000" stroke-opacity="0.22" stroke-width="1.3"/>
<line x1="356.67" y1="389" x2="356.67" y2="505.70" stroke="#1e1e1e" stroke-opacity="0.55" stroke-width="1.3" stroke-dasharray="1 1"/>
<line x1="382.47" y1="389" x2="382.47" y2="505.70" stroke="#000" stroke-opacity="0.22" stroke-width="1.3"/>
<line x1="382.47" y1="389" x2="382.47" y2="505.70" stroke="#1e1e1e" stroke-opacity="0.55" stroke-width="1.3" stroke-dasharray="1 1"/>
<text x="318.0" y="519.0" font-size="8.8" fill="#444" stroke="#444" stroke-width="0.1" text-anchor="middle">0.9</text>
<text x="343.8" y="519.0" font-size="8.8" fill="#444" stroke="#444" stroke-width="0.1" text-anchor="middle">1</text>
<text x="369.6" y="519.0" font-size="8.8" fill="#444" stroke="#444" stroke-width="0.1" text-anchor="middle">1.1</text>
<text x="343.8" y="531.2" font-size="11.1" fill="#363636" stroke="#363636" stroke-width="0.25" text-anchor="middle">cadence</text>
<text x="343.8" y="543.9" font-size="11.1" fill="#363636" stroke="#363636" stroke-width="0.25" text-anchor="middle">(normalized)</text>
<rect x="410.47" y="505.45" width="103" height="1" fill="#888"/>
<rect x="435.57" y="505.70" width="0.8" height="2.0" fill="#6a6a6a"/>
<rect x="461.37" y="505.70" width="0.8" height="2.0" fill="#6a6a6a"/>
<rect x="487.17" y="505.70" width="0.8" height="2.0" fill="#6a6a6a"/>
<path d="M425.65,506.10V500.10H428.23V490.70H430.81V476.10H433.39V450.70H435.97V440.50H438.55V455.40H441.13V469.40H443.71V469.40H446.29V495.70H448.87V496.70H451.45V506.10Z" fill="rgba(85,188,192,0.33)"/>
<path d="M441.13,506.10V504.30H443.71V502.70H446.29V501.40H448.87V498.70H451.45V495.00H454.03V488.80H456.61V473.40H459.19V470.90H461.77V448.20H464.35V426.30H466.93V454.50H469.51V487.90H472.09V488.60H474.67V500.70H477.25V506.10Z" fill="rgba(85,188,192,0.6)"/>
<path d="M469.51,506.10V503.70H472.09V503.70H474.67V497.90H477.25V481.80H479.83V480.60H482.41V453.20H484.99V460.30H487.57V451.20H490.15V439.00H492.73V459.20H495.31V457.40H497.89V482.80H500.47V480.80H503.05V494.70H505.63V503.50H508.21V504.30H510.79V506.10Z" fill="rgba(85,188,192,0.9)"/>
<line x1="423.07" y1="389" x2="423.07" y2="505.70" stroke="#000" stroke-opacity="0.22" stroke-width="1.3"/>
<line x1="423.07" y1="389" x2="423.07" y2="505.70" stroke="#1e1e1e" stroke-opacity="0.55" stroke-width="1.3" stroke-dasharray="1 1"/>
<line x1="448.87" y1="389" x2="448.87" y2="505.70" stroke="#000" stroke-opacity="0.22" stroke-width="1.3"/>
<line x1="448.87" y1="389" x2="448.87" y2="505.70" stroke="#1e1e1e" stroke-opacity="0.55" stroke-width="1.3" stroke-dasharray="1 1"/>
<line x1="474.67" y1="389" x2="474.67" y2="505.70" stroke="#000" stroke-opacity="0.22" stroke-width="1.3"/>
<line x1="474.67" y1="389" x2="474.67" y2="505.70" stroke="#1e1e1e" stroke-opacity="0.55" stroke-width="1.3" stroke-dasharray="1 1"/>
<line x1="500.47" y1="389" x2="500.47" y2="505.70" stroke="#000" stroke-opacity="0.22" stroke-width="1.3"/>
<line x1="500.47" y1="389" x2="500.47" y2="505.70" stroke="#1e1e1e" stroke-opacity="0.55" stroke-width="1.3" stroke-dasharray="1 1"/>
<text x="436.0" y="519.0" font-size="8.8" fill="#444" stroke="#444" stroke-width="0.1" text-anchor="middle">0.9</text>
<text x="461.8" y="519.0" font-size="8.8" fill="#444" stroke="#444" stroke-width="0.1" text-anchor="middle">1</text>
<text x="487.6" y="519.0" font-size="8.8" fill="#444" stroke="#444" stroke-width="0.1" text-anchor="middle">1.1</text>
<text x="461.8" y="531.2" font-size="11.1" fill="#363636" stroke="#363636" stroke-width="0.25" text-anchor="middle">cadence</text>
<text x="461.8" y="543.9" font-size="11.1" fill="#363636" stroke="#363636" stroke-width="0.25" text-anchor="middle">(normalized)</text>
<text x="25.6" y="128.7" font-size="11" fill="#151515" stroke="#151515" stroke-width="0.2">a</text>
<text x="25.6" y="398.6" font-size="11.5" fill="#151515" stroke="#151515" stroke-width="0.2">b</text>
<text transform="translate(38.1,184.2) rotate(-90)" font-size="11" font-weight="700" fill="#111" text-anchor="middle">synchronization</text>
<text transform="translate(38.2,446.1) rotate(-90)" font-size="11" font-weight="700" fill="#111" text-anchor="middle">continuation</text>
</svg>
</body></html>
